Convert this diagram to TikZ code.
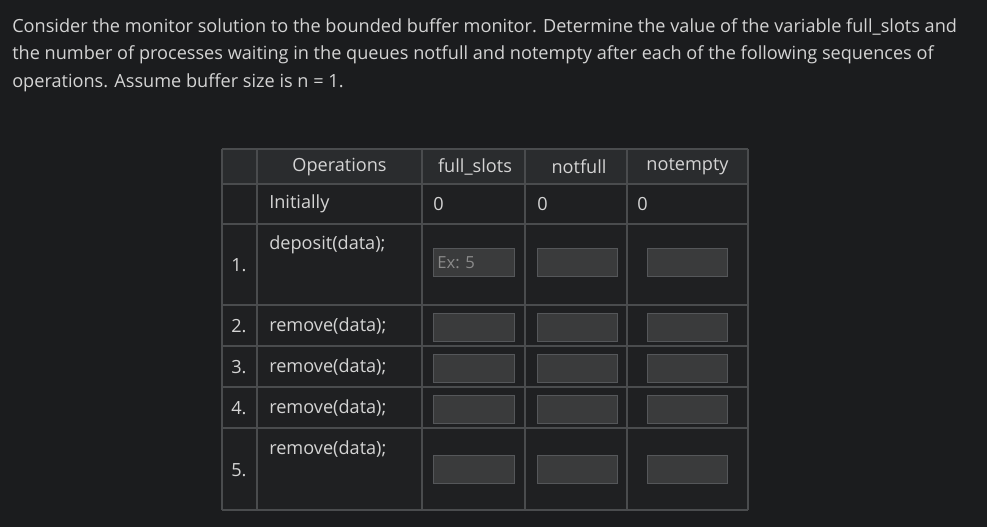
\documentclass[tikz,border=0pt]{standalone}
\usepackage{fontspec}
\setmainfont{Open Sans}
\definecolor{bg}{HTML}{1B1C1E}
\definecolor{hdr}{HTML}{2A2C2E}
\definecolor{body}{HTML}{1F2022}
\definecolor{grid}{HTML}{4A4C4E}
\definecolor{txt}{HTML}{D4D4D4}
\definecolor{inbox}{HTML}{3A3B3C}
\definecolor{inbd}{HTML}{55575A}
\definecolor{ph}{HTML}{8A8A8A}
\begin{document}
\begin{tikzpicture}[x=0.75pt,y=-0.75pt,
  t/.style={text=txt,font=\fontsize{13.6pt}{16pt}\selectfont,inner sep=0pt},
  inp/.style={fill=inbox,draw=inbd,line width=0.5pt}]
\fill[bg] (0,0) rectangle (987,527);
\useasboundingbox (0,0) rectangle (987,527);
\node[t,anchor=west] (l1) at (12,27) {Consider the monitor solution to the bounded buffer monitor. Determine the value of the variable full\_slots and};
\node[t,anchor=west] (l2) at (12,55) {the number of processes waiting in the queues notfull and notempty after each of the following sequences of};
\node[t,anchor=west] (l3) at (12,83) {operations. Assume buffer size is n = 1.};
\fill[body] (222,149) rectangle (748,510);
\fill[hdr] (222,149) rectangle (748,184);
\foreach \x in {222,257,422,525,627,748} \draw[grid,line width=0.8pt] (\x,149) -- (\x,510);
\foreach \y in {149,184,224,305,346,387,428,510} \draw[grid,line width=0.8pt] (222,\y) -- (748,\y);
\node[t] (h1) at (339.5,167) {Operations};
\node[t] (h2) at (475,167) {full\_slots};
\node[t] (h3) at (579,167) {notfull};
\node[t] (h4) at (687.5,167) {notempty};
\node[t,anchor=west] (i0) at (269,204) {Initially};
\node[t,anchor=west] (i1) at (433,204) {0};
\node[t,anchor=west] (i2) at (537,204) {0};
\node[t,anchor=west] (i3) at (637,204) {0};
\node[t,anchor=west] (r1) at (269,245) {deposit(data);};
\node[t,anchor=west] (n1) at (231,265) {1.};
\foreach \n/\y/\s in {2/326/remove(data);,3/367/remove(data);,4/408/remove(data);}{
  \node[t,anchor=west] (n\n) at (231,\y) {\n.};
  \node[t,anchor=west] (r\n) at (269,\y) {\s};
}
\node[t,anchor=west] (r5) at (269,449) {remove(data);};
\node[t,anchor=west] (n5) at (231,470) {5.};
\foreach \yc in {262.5,327,368,409,469}{
  \draw[inp] (433,\yc-14) rectangle (514,\yc+14);
  \draw[inp] (537,\yc-14) rectangle (617,\yc+14);
  \draw[inp] (647,\yc-14) rectangle (727,\yc+14);
}
\node[t,anchor=west,text=ph,font=\fontsize{12.5pt}{14pt}\selectfont] (ex) at (437,263) {Ex: 5};
\end{tikzpicture}
\end{document}
